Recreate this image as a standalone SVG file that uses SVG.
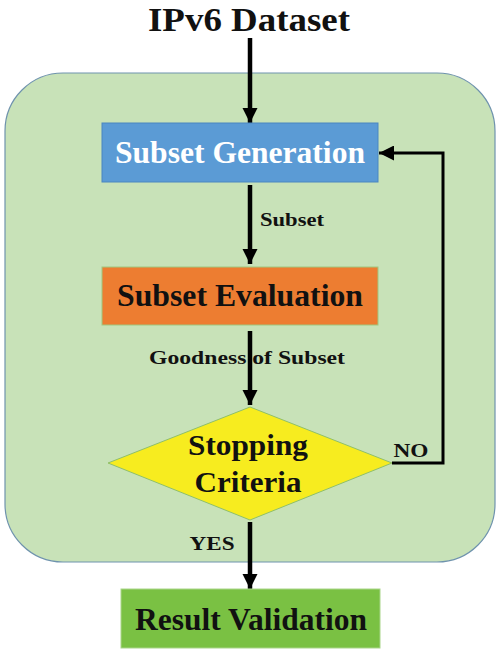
<svg xmlns="http://www.w3.org/2000/svg" width="500" height="654" viewBox="0 0 500 654">
<defs>
<marker id="ah" viewBox="0 0 10 10" refX="10" refY="5" markerWidth="3.4" markerHeight="3.4" orient="auto" markerUnits="strokeWidth">
<path d="M0,0 L10,5 L0,10 z" fill="#000"/>
</marker>
<marker id="ah2" viewBox="0 0 10 10" refX="10" refY="5" markerWidth="5" markerHeight="5" orient="auto" markerUnits="strokeWidth">
<path d="M0,0 L10,5 L0,10 z" fill="#000"/>
</marker>
</defs>
<rect width="500" height="654" fill="#fff"/>
<g id="container">
<rect x="5" y="73" width="490" height="489" rx="58" ry="58" fill="#c8e2b8" stroke="#6f93ad" stroke-width="1.2"/>
</g>
<g id="title">
<text x="249" y="31" font-family="Liberation Serif" font-weight="bold" text-anchor="middle" font-size="34" textLength="202" lengthAdjust="spacingAndGlyphs" fill="#111">IPv6 Dataset</text>
</g>
<g id="connectors">
<line x1="250" y1="38" x2="250" y2="123" stroke="#000" stroke-width="4.5" marker-end="url(#ah)"/>
<line x1="250" y1="185" x2="250" y2="264" stroke="#000" stroke-width="4.5" marker-end="url(#ah)"/>
<line x1="250" y1="331" x2="250" y2="405" stroke="#000" stroke-width="4.5" marker-end="url(#ah)"/>
<line x1="250" y1="522" x2="250" y2="589" stroke="#000" stroke-width="4.5" marker-end="url(#ah)"/>
<polyline points="392,463 443,463 443,153 379,153" fill="none" stroke="#000" stroke-width="3" marker-end="url(#ah2)"/>
<text x="292" y="226" font-family="Liberation Serif" font-weight="bold" text-anchor="middle" font-size="19" fill="#111" textLength="64" lengthAdjust="spacingAndGlyphs">Subset</text>
<text x="247" y="364" font-family="Liberation Serif" font-weight="bold" text-anchor="middle" font-size="19" fill="#111" textLength="196" lengthAdjust="spacingAndGlyphs">Goodness of Subset</text>
<text x="411" y="457" font-family="Liberation Serif" font-weight="bold" text-anchor="middle" font-size="19" fill="#111" textLength="35" lengthAdjust="spacingAndGlyphs">NO</text>
<text x="212" y="550" font-family="Liberation Serif" font-weight="bold" text-anchor="middle" font-size="19" fill="#111" textLength="45" lengthAdjust="spacingAndGlyphs">YES</text>
</g>
<g id="subset-generation">
<rect x="102" y="123" width="276" height="59" fill="#5b9bd5" stroke="#4a86c0" stroke-width="1"/>
<text x="240" y="163" font-family="Liberation Serif" font-weight="bold" text-anchor="middle" font-size="31" fill="#fff" textLength="250" lengthAdjust="spacingAndGlyphs">Subset Generation</text>
</g>
<g id="subset-evaluation">
<rect x="102" y="267" width="276" height="58" fill="#ed7d31" stroke="#9fc77f" stroke-width="1"/>
<text x="240" y="306" font-family="Liberation Serif" font-weight="bold" text-anchor="middle" font-size="31" fill="#111" textLength="246" lengthAdjust="spacingAndGlyphs">Subset Evaluation</text>
</g>
<g id="stopping-criteria">
<polygon points="250,407 392,463 250,520 108,463" fill="#f7ec1f" stroke="#8fbf6a" stroke-width="1"/>
<text x="248" y="455" font-family="Liberation Serif" font-weight="bold" text-anchor="middle" font-size="30" fill="#111" textLength="120" lengthAdjust="spacingAndGlyphs">Stopping</text>
<text x="248" y="492" font-family="Liberation Serif" font-weight="bold" text-anchor="middle" font-size="30" fill="#111" textLength="107" lengthAdjust="spacingAndGlyphs">Criteria</text>
</g>
<g id="result-validation">
<rect x="121" y="589" width="259" height="59" fill="#7ac143" stroke="#a9d58a" stroke-width="1"/>
<text x="251" y="630" font-family="Liberation Serif" font-weight="bold" text-anchor="middle" font-size="31" fill="#111" textLength="232" lengthAdjust="spacingAndGlyphs">Result Validation</text>
</g>
</svg>
